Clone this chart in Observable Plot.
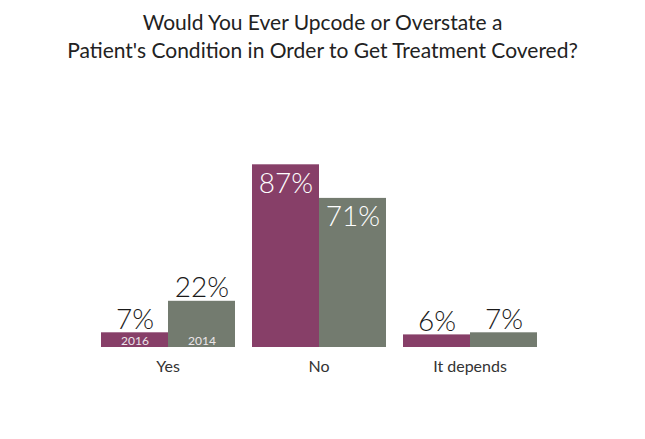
<!DOCTYPE html>
<html>
<head>
<meta charset="utf-8">
<script src="https://cdn.jsdelivr.net/npm/d3@7"></script>
<script src="https://cdn.jsdelivr.net/npm/@observablehq/plot@0.6"></script>
<style>
  body { margin: 0; background: #fff; width: 645px; height: 439px; overflow: hidden; }
  #title { font-family: Lato, "Open Sans", sans-serif; font-size: 21px; line-height: 28px; color: #222; text-align: center; padding-top: 8px; height: 56px; }
</style>
</head>
<body>
<div id="title">Would You Ever Upcode or Overstate a<br>Patient's Condition in Order to Get Treatment Covered?</div>
<div id="chart"></div>
<script>
const categories = ["Yes", "No", "It depends"];
const years = ["2016", "2014"];
const values2016 = [7, 87, 6];
const values2014 = [22, 71, 7];
const colors = ["#873f68", "#737b6f"];

const rows = [];
categories.forEach((c, i) => {
  rows.push({category: c, year: "2016", value: values2016[i]});
  rows.push({category: c, year: "2014", value: values2014[i]});
});
const inside = d => d.category === "No";

const chart = Plot.plot({
  width: 645,
  height: 375,
  marginLeft: 100,
  marginRight: 108,
  marginTop: 73,
  marginBottom: 92,
  style: {fontFamily: "Lato, 'Open Sans', sans-serif", background: "#fff", fontSize: "16px", color: "#333"},
  fx: {domain: categories, paddingInner: 0.106, paddingOuter: 0, label: null, axis: "bottom", tickSize: 0, tickPadding: 13},
  x: {domain: years, padding: 0, axis: null},
  y: {domain: [0, 100], axis: null},
  color: {domain: years, range: colors},
  marks: [
    Plot.barY(rows, {fx: "category", x: "year", y: "value", fill: "year", insetLeft: 0, insetRight: 0}),
    Plot.text(rows.filter(d => !inside(d)), {fx: "category", x: "year", y: "value", text: d => d.value + "%", lineAnchor: "bottom", dy: -4, fontSize: 28, fontWeight: 300, fill: "#1a1a1a"}),
    Plot.text(rows.filter(inside), {fx: "category", x: "year", y: "value", text: d => d.value + "%", lineAnchor: "top", dy: 8, fontSize: 28, fontWeight: 300, fill: "#ffffff"}),
    Plot.text(rows.filter(d => d.category === "Yes"), {fx: "category", x: "year", y: d => 0, text: "year", dy: -6, fontSize: 12, fill: "#ece6ea"})
  ]
});
document.getElementById("chart").appendChild(chart);
</script>
</body>
</html>
